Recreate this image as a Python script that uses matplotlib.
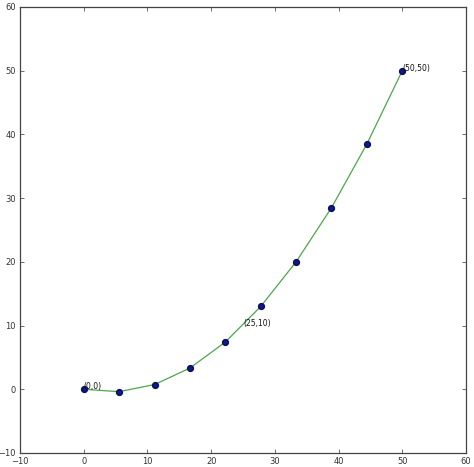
import matplotlib
matplotlib.use("Agg")
import matplotlib.pyplot as plt

x_vals = [0, 5.56, 11.11, 16.67, 22.22, 27.78, 33.33, 38.89, 44.44, 50]
y_vals = [0, -0.37, 0.74, 3.33, 7.41, 13.0, 20.0, 28.5, 38.5, 50]
labels = ["(0,0)", "(25,10)", "(50,50)"]
label_pos = [(0, 0), (25, 10), (50, 50)]
ticks = [-10, 0, 10, 20, 30, 40, 50, 60]

fig = plt.figure(figsize=(4.74, 4.67), dpi=100)
ax = fig.add_axes([20/474, 14/467, 446/474, 446/467])
ax.plot(x_vals, y_vals, '-', color=(0.3, 0.65, 0.3), lw=0.9, zorder=1)
ax.plot(x_vals, y_vals, 'o', color=(0.05, 0.1, 0.55), markeredgecolor=(0.05, 0.05, 0.35),
        markersize=4.2, zorder=2)
for lab, (px, py) in zip(labels, label_pos):
    ax.text(px, py, lab, fontsize=5.5, color='#111111', ha='left', va='baseline')
ax.set_xlim(-10, 60)
ax.set_ylim(-10, 60)
ax.set_xticks(ticks)
ax.set_yticks(ticks)
ax.tick_params(direction='in', length=3, width=0.5, labelsize=6, colors='#333333',
               top=True, right=True, pad=3)
for s in ax.spines.values():
    s.set_color('#444444')
    s.set_linewidth(0.9)
fig.savefig("out.png", dpi=100)
